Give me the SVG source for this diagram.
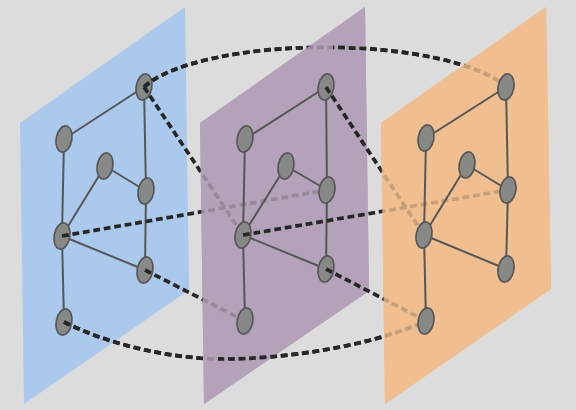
<svg xmlns="http://www.w3.org/2000/svg" width="576" height="410" viewBox="0 0 576 410">
<style>
.edge{stroke:#565656;stroke-width:2;fill:none;stroke-linecap:round}
.node ellipse{fill:#878987;stroke:#575757;stroke-width:1.7}
.link{fill:none;stroke:#262626;stroke-width:3.7;stroke-dasharray:6.8 3.8}
.blue{fill:#abc9ec}
.purple{fill:#b3a2b9}
.orange{fill:#f0be8f}
.veil{opacity:0.8}
</style>
<defs>
<clipPath id="clipTop"><rect x="0" y="0" width="305" height="410"/><rect x="333" y="0" width="243" height="410"/></clipPath>
<clipPath id="clipBottom"><rect x="0" y="0" width="200" height="410"/><rect x="218" y="0" width="358" height="410"/></clipPath>
<path id="arcTop" d="M144,87 A190,57 0 0 1 506,87"/>
<path id="arcBottom" d="M64,322 C110,345 170,359 225,359 C280,359 370,347 426,321"/>
<polygon id="pPurple" points="200,123 365,7 369,291 204,404"/>
<polygon id="pOrange" points="381,123 546,7 551,289 385,404"/>
</defs>
<rect width="576" height="410" fill="#dbdcdb"/>
<g id="planes">
<polygon id="plane-blue" class="blue" points="20,123 185,7 189,290 24,404"/>
<use href="#pPurple" class="purple"/>
<use href="#pOrange" class="orange"/>
</g>
<g id="edges-blue">
<line class="edge" x1="144" y1="87" x2="64" y2="139"/>
<line class="edge" x1="144" y1="87" x2="146" y2="191"/>
<line class="edge" x1="64" y1="139" x2="62" y2="236"/>
<line class="edge" x1="105" y1="166" x2="62" y2="236"/>
<line class="edge" x1="105" y1="166" x2="146" y2="191"/>
<line class="edge" x1="146" y1="191" x2="145" y2="270"/>
<line class="edge" x1="62" y1="236" x2="145" y2="270"/>
<line class="edge" x1="62" y1="236" x2="64" y2="322"/>
</g>
<g id="nodes-blue">
<g id="blue-A" class="node"><ellipse cx="144" cy="87" rx="7.8" ry="13.2" transform="rotate(10 144 87)"/></g>
<g id="blue-B" class="node"><ellipse cx="64" cy="139" rx="7.8" ry="13.2" transform="rotate(10 64 139)"/></g>
<g id="blue-C" class="node"><ellipse cx="105" cy="166" rx="7.8" ry="13.2" transform="rotate(10 105 166)"/></g>
<g id="blue-D" class="node"><ellipse cx="146" cy="191" rx="7.8" ry="13.2" transform="rotate(10 146 191)"/></g>
<g id="blue-E" class="node"><ellipse cx="62" cy="236" rx="7.8" ry="13.2" transform="rotate(10 62 236)"/></g>
<g id="blue-F" class="node"><ellipse cx="145" cy="270" rx="7.8" ry="13.2" transform="rotate(10 145 270)"/></g>
<g id="blue-G" class="node"><ellipse cx="64" cy="322" rx="7.8" ry="13.2" transform="rotate(10 64 322)"/></g>
</g>
<g id="connectors-blue-purple">
<line class="link" x1="144" y1="87" x2="243" y2="235"/>
<line class="link" x1="62" y1="236" x2="327" y2="190"/>
<line class="link" x1="145" y1="270" x2="245" y2="321"/>
<use href="#arcTop" class="link"/>
<use href="#arcBottom" class="link"/>
</g>
<use href="#pPurple" class="purple veil"/>
<g id="edges-purple">
<line class="edge" x1="326" y1="87" x2="245" y2="139"/>
<line class="edge" x1="326" y1="87" x2="327" y2="190"/>
<line class="edge" x1="245" y1="139" x2="243" y2="235"/>
<line class="edge" x1="286" y1="166" x2="243" y2="235"/>
<line class="edge" x1="286" y1="166" x2="327" y2="190"/>
<line class="edge" x1="327" y1="190" x2="326" y2="269"/>
<line class="edge" x1="243" y1="235" x2="326" y2="269"/>
<line class="edge" x1="243" y1="235" x2="245" y2="321"/>
</g>
<g id="nodes-purple">
<g id="purple-A" class="node"><ellipse cx="326" cy="87" rx="7.8" ry="13.2" transform="rotate(10 326 87)"/></g>
<g id="purple-B" class="node"><ellipse cx="245" cy="139" rx="7.8" ry="13.2" transform="rotate(10 245 139)"/></g>
<g id="purple-C" class="node"><ellipse cx="286" cy="166" rx="7.8" ry="13.2" transform="rotate(10 286 166)"/></g>
<g id="purple-D" class="node"><ellipse cx="327" cy="190" rx="7.8" ry="13.2" transform="rotate(10 327 190)"/></g>
<g id="purple-E" class="node"><ellipse cx="243" cy="235" rx="7.8" ry="13.2" transform="rotate(10 243 235)"/></g>
<g id="purple-F" class="node"><ellipse cx="326" cy="269" rx="7.8" ry="13.2" transform="rotate(10 326 269)"/></g>
<g id="purple-G" class="node"><ellipse cx="245" cy="321" rx="7.8" ry="13.2" transform="rotate(10 245 321)"/></g>
</g>
<g id="connectors-purple-orange">
<line class="link" x1="326" y1="87" x2="424" y2="235"/>
<line class="link" x1="243" y1="235" x2="508" y2="190"/>
<line class="link" x1="326" y1="269" x2="426" y2="321"/>
<use href="#arcTop" class="link" clip-path="url(#clipTop)"/>
<use href="#arcBottom" class="link" clip-path="url(#clipBottom)"/>
</g>
<use href="#pOrange" class="orange veil"/>
<g id="edges-orange">
<line class="edge" x1="506" y1="87" x2="426" y2="138"/>
<line class="edge" x1="506" y1="87" x2="508" y2="190"/>
<line class="edge" x1="426" y1="138" x2="424" y2="235"/>
<line class="edge" x1="467" y1="165" x2="424" y2="235"/>
<line class="edge" x1="467" y1="165" x2="508" y2="190"/>
<line class="edge" x1="508" y1="190" x2="506" y2="269"/>
<line class="edge" x1="424" y1="235" x2="506" y2="269"/>
<line class="edge" x1="424" y1="235" x2="426" y2="321"/>
</g>
<g id="nodes-orange">
<g id="orange-A" class="node"><ellipse cx="506" cy="87" rx="7.8" ry="13.2" transform="rotate(10 506 87)"/></g>
<g id="orange-B" class="node"><ellipse cx="426" cy="138" rx="7.8" ry="13.2" transform="rotate(10 426 138)"/></g>
<g id="orange-C" class="node"><ellipse cx="467" cy="165" rx="7.8" ry="13.2" transform="rotate(10 467 165)"/></g>
<g id="orange-D" class="node"><ellipse cx="508" cy="190" rx="7.8" ry="13.2" transform="rotate(10 508 190)"/></g>
<g id="orange-E" class="node"><ellipse cx="424" cy="235" rx="7.8" ry="13.2" transform="rotate(10 424 235)"/></g>
<g id="orange-F" class="node"><ellipse cx="506" cy="269" rx="7.8" ry="13.2" transform="rotate(10 506 269)"/></g>
<g id="orange-G" class="node"><ellipse cx="426" cy="321" rx="7.8" ry="13.2" transform="rotate(10 426 321)"/></g>
</g>
</svg>
